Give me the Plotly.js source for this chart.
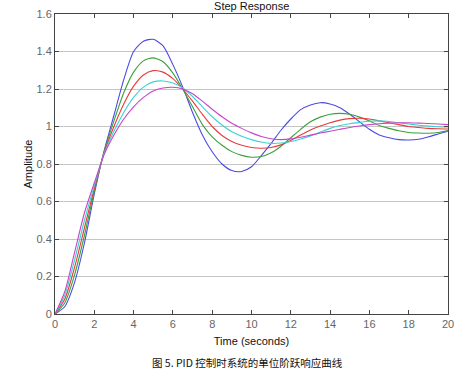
<!DOCTYPE html>
<html>
<head>
<meta charset="utf-8">
<script src="https://cdn.plot.ly/plotly-3.0.1.min.js"></script>
<style>
html,body{margin:0;padding:0;background:#fff;}
#chart{width:474px;height:372px;}
</style>
</head>
<body>
<div id="chart"></div>
<script>
// Time samples (seconds)
const time = [0,0.5,1,1.5,2,2.5,3,3.5,4,4.5,5,5.5,6,6.5,7,7.5,8,8.5,9,9.5,10,10.5,11,11.5,12,12.5,13,13.5,14,14.5,15,15.5,16,16.5,17,17.5,18,18.5,19,19.5,20];

// Step responses
const blueResp = [0,0.04,0.17,0.38,0.64,0.87,1.06,1.25,1.40,1.455,1.465,1.43,1.33,1.21,1.075,0.955,0.865,0.80,0.765,0.76,0.785,0.845,0.91,0.98,1.04,1.09,1.115,1.127,1.12,1.10,1.065,1.025,0.985,0.955,0.94,0.93,0.928,0.932,0.945,0.96,0.975];
const greenResp = [0,0.06,0.21,0.42,0.655,0.865,1.03,1.18,1.29,1.35,1.366,1.345,1.285,1.20,1.105,1.01,0.945,0.90,0.866,0.846,0.836,0.84,0.86,0.895,0.94,0.985,1.025,1.05,1.065,1.07,1.065,1.05,1.03,1.005,0.99,0.977,0.968,0.965,0.964,0.968,0.978];
const redResp = [0,0.08,0.25,0.46,0.67,0.86,1.0,1.12,1.215,1.275,1.298,1.29,1.255,1.20,1.135,1.065,1.0,0.952,0.92,0.90,0.888,0.884,0.888,0.902,0.925,0.955,0.982,1.003,1.02,1.034,1.042,1.044,1.04,1.03,1.02,1.01,1.0,0.995,0.99,0.988,0.987];
const cyanResp = [0,0.10,0.29,0.50,0.685,0.855,0.975,1.075,1.155,1.21,1.238,1.243,1.232,1.205,1.16,1.105,1.052,1.008,0.972,0.948,0.93,0.917,0.91,0.912,0.92,0.933,0.95,0.97,0.99,1.005,1.015,1.022,1.028,1.03,1.027,1.02,1.013,1.007,1.002,0.999,0.997];
const magentaResp = [0,0.12,0.33,0.54,0.70,0.85,0.955,1.04,1.105,1.155,1.19,1.205,1.209,1.20,1.175,1.135,1.092,1.052,1.017,0.99,0.966,0.947,0.935,0.93,0.934,0.943,0.954,0.965,0.975,0.985,0.995,1.003,1.01,1.015,1.018,1.02,1.02,1.018,1.016,1.013,1.01];

const seriesData = [blueResp, greenResp, redResp, cyanResp, magentaResp];
const seriesColors = ['#4b4be6', '#3ca03c', '#e63c3c', '#3cd2d2', '#c846c8'];
const steadyState = 1;

const xTicks = [0,2,4,6,8,10,12,14,16,18,20];
const yTicks = [0,0.2,0.4,0.6,0.8,1,1.2,1.4,1.6];

const traces = seriesData.map((ys, i) => ({
  type: 'scatter', mode: 'lines', x: time, y: ys,
  line: {color: seriesColors[i], width: 1.1, shape: 'spline', smoothing: 0.7},
  hoverinfo: 'skip', showlegend: false
}));

const fontFam = 'Liberation Sans, Arial, sans-serif';

const layout = {
  width: 474, height: 372,
  margin: {l: 55, r: 26, t: 14, b: 58},
  paper_bgcolor: '#ffffff', plot_bgcolor: '#ffffff',
  showlegend: false,
  title: {text: 'Step Response', font: {family: fontFam, size: 11, color: '#111'},
          x: 0.531, xanchor: 'center', y: 0.984, yanchor: 'middle', yref: 'container'},
  xaxis: {
    range: [0, 20], tickvals: xTicks, ticktext: xTicks.map(String),
    ticks: 'inside', ticklen: 4, tickcolor: '#444', mirror: 'ticks',
    showline: true, linecolor: '#444', linewidth: 1, showgrid: false, zeroline: false,
    tickfont: {family: fontFam, size: 11, color: '#666'},
    title: {text: 'Time (seconds)', font: {family: fontFam, size: 11, color: '#111'}, standoff: 8}
  },
  yaxis: {
    range: [0, 1.6], tickvals: yTicks, ticktext: yTicks.map(String),
    ticks: 'inside', ticklen: 4, tickcolor: '#444', mirror: 'ticks',
    showline: true, linecolor: '#444', linewidth: 1,
    showgrid: true, gridcolor: '#c4c4c4', gridwidth: 1, zeroline: false,
    tickfont: {family: fontFam, size: 11, color: '#666'},
    title: {text: 'Amplitude', font: {family: fontFam, size: 11, color: '#111'}, standoff: 1}
  },
  shapes: [{type: 'line', xref: 'paper', x0: 0, x1: 1, yref: 'y', y0: steadyState, y1: steadyState,
            line: {color: '#222', width: 1.2}, layer: 'below'}],
  annotations: [{
    text: '图 5. PID 控制时系统的单位阶跃响应曲线', showarrow: false,
    xref: 'paper', yref: 'paper', x: 0.49, y: -0.16, xanchor: 'center', yanchor: 'middle',
    font: {family: 'Noto Sans CJK SC, sans-serif', size: 10.5, color: '#111'}
  }]
};

Plotly.newPlot('chart', traces, layout, {staticPlot: true, displayModeBar: false});
</script>
</body>
</html>
